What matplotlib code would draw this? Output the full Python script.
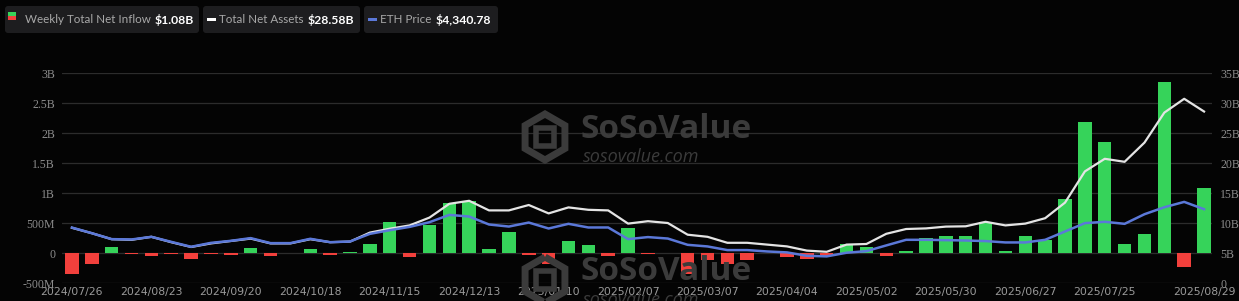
import numpy as np
import pandas as pd
import matplotlib
matplotlib.use('Agg')
import matplotlib.pyplot as plt
from matplotlib.patches import FancyBboxPatch, RegularPolygon, Rectangle

# weekly dates (Fridays)
weeks = pd.date_range('2024-07-26', '2025-08-29', freq='7D')
week_labels = [d.strftime('%Y/%m/%d') for d in weeks]

# weekly total net inflow, in billions USD
net_inflow = [-0.350, -0.178, 0.100, -0.022, -0.050, -0.015, -0.100, -0.015, -0.033, 0.078,
              -0.044, 0.001, 0.072, -0.028, 0.017, 0.150, 0.511, -0.072, 0.467, 0.833,
              0.872, 0.061, 0.350, -0.039, -0.178, 0.206, 0.133, -0.050, 0.417, -0.022,
              -0.003, -0.344, -0.122, -0.178, -0.111, -0.003, -0.061, -0.094, -0.044, 0.150,
              0.100, -0.044, 0.039, 0.244, 0.278, 0.278, 0.517, 0.028, 0.278, 0.211,
              0.900, 2.183, 1.844, 0.150, 0.322, 2.850, -0.239, 1.083]

# total net assets, in billions USD
net_assets = [9.2, 8.3, 7.3, 7.2, 7.7, 6.8, 6.0, 6.6, 7.0, 7.4,
              6.6, 6.6, 7.3, 6.8, 6.9, 8.4, 9.05, 9.6, 10.9, 13.2,
              13.7, 12.1, 12.1, 13.0, 11.6, 12.6, 12.2, 12.1, 9.9, 10.3,
              10.0, 8.05, 7.7, 6.7, 6.7, 6.4, 6.1, 5.4, 5.2, 6.4,
              6.5, 8.2, 9.0, 9.1, 9.4, 9.45, 10.2, 9.6, 9.9, 10.8,
              13.4, 18.6, 20.7, 20.2, 23.4, 28.4, 30.7, 28.58]

# ETH price, USD
eth_price = [3260, 2930, 2580, 2560, 2715, 2420, 2130, 2360, 2480, 2640,
             2345, 2345, 2600, 2400, 2440, 2890, 3105, 3300, 3575, 4005,
             3910, 3440, 3320, 3555, 3205, 3480, 3265, 3265, 2580, 2700,
             2615, 2245, 2150, 1935, 1935, 1855, 1800, 1600, 1565, 1780,
             1875, 2210, 2540, 2540, 2520, 2500, 2465, 2385, 2385, 2540,
             3030, 3520, 3600, 3480, 4045, 4455, 4770, 4340.78]

left_ticks = [-0.5, 0, 0.5, 1, 1.5, 2, 2.5, 3]
left_tick_labels = ['-500M', '0', '500M', '1B', '1.5B', '2B', '2.5B', '3B']
right_ticks = [0, 5, 10, 15, 20, 25, 30, 35]
right_tick_labels = ['0', '5B', '10B', '15B', '20B', '25B', '30B', '35B']
xtick_idx = [0, 4, 8, 12, 16, 20, 24, 28, 32, 36, 40, 44, 48, 52, 57]

GREEN = '#36d35a'
RED = '#f2403c'
BLUE = '#5b78d8'
WHITE = '#e4e4e4'
BG = '#040404'
MARK = '#3b3b3b'

W, H = 1239, 301
fig = plt.figure(figsize=(W / 100, H / 100), dpi=100, facecolor=BG)
ax = fig.add_axes([62 / W, 1 - 283 / H, (1212 - 62) / W, 210 / H])
ax.set_facecolor(BG)

x = np.arange(len(net_inflow))
vals = np.array(net_inflow)
colors = [GREEN if v >= 0 else RED for v in vals]
ax.bar(x, vals, width=0.68, color=colors, zorder=2)

ax.set_xlim(-0.5, 57.4)
ax.set_ylim(-0.5, 3)
ax.set_yticks(left_ticks)
ax.set_yticklabels(left_tick_labels, family='Liberation Serif', fontsize=8.5, color='#8c8c8c')
ax.set_xticks(xtick_idx)
ax.set_xticklabels([week_labels[i] for i in xtick_idx], family='DejaVu Sans', fontsize=7.8, color='#9a9a9a')
ax.tick_params(axis='both', length=0, pad=3)
ax.tick_params(axis='y', pad=5)
ax.grid(axis='y', color='#2c2c2c', linewidth=0.9, zorder=0)
for s in ax.spines.values():
    s.set_visible(False)

# right axis: total net assets
ax2 = ax.twinx()
ax2.set_ylim(0, 35)
ax2.set_yticks(right_ticks)
ax2.set_yticklabels(right_tick_labels, family='Liberation Serif', fontsize=8.5, color='#8c8c8c')
ax2.tick_params(axis='y', length=0, pad=6)
ax2.plot(x, net_assets, color=WHITE, linewidth=1.6, zorder=3)
for s in ax2.spines.values():
    s.set_visible(False)

# hidden axis: ETH price
ax3 = ax.twinx()
ax3.set_ylim(0, 12350)
ax3.axis('off')
ax3.plot(x, eth_price, color=BLUE, linewidth=1.8, zorder=4)


# watermarks
def watermark(cy):
    hexagon = RegularPolygon((545, H - cy), 6, radius=23, orientation=0,
                             fill=False, edgecolor=MARK, linewidth=5,
                             transform=None, zorder=10)
    fig.patches.append(hexagon)
    fig.patches.append(Rectangle((536, H - cy - 9), 18, 18, fill=False,
                                 edgecolor=MARK, linewidth=4, transform=None, zorder=10))
    fig.text(580 / W, 1 - (cy - 8) / H, 'SoSoValue', fontsize=24, fontweight='bold',
             family='Open Sans', color=MARK, va='center', ha='left', zorder=10)
    fig.text(583 / W, 1 - (cy + 20) / H, 'sosovalue.com', fontsize=13, style='italic',
             family='Open Sans', color=MARK, va='center', ha='left', zorder=10)


watermark(137)
watermark(280)


# legend boxes at the top
def legend_box(x0, x1, label, value, kind, color):
    fig.patches.append(FancyBboxPatch((x0, H - 33), x1 - x0, 27,
                                      boxstyle='round,pad=0,rounding_size=3',
                                      facecolor='#1d1d1f', edgecolor='none', transform=None))
    ty = 1 - 19.5 / H
    if kind == 'square':
        fig.patches.append(Rectangle((8, H - 16), 8, 4, facecolor=GREEN, transform=None))
        fig.patches.append(Rectangle((8, H - 20), 8, 4, facecolor=RED, transform=None))
        tx = 25
    else:
        fig.patches.append(Rectangle((x0 + 4, H - 21), 9, 3, facecolor=color, transform=None))
        tx = x0 + 16
    t = fig.text(tx / W, ty, label, fontsize=8.4, family='Lato', color='#a8a8a8',
                 va='center', ha='left')
    fig.canvas.draw()
    bb = t.get_window_extent()
    fig.text((bb.x1 + 4) / W, ty, value, fontsize=8.8, family='Lato', fontweight='bold',
             color='#ffffff', va='center', ha='left')


legend_box(5, 199, 'Weekly Total Net Inflow', '$1.08B', 'square', None)
legend_box(203, 360, 'Total Net Assets', '$28.58B', 'line', '#ffffff')
legend_box(364, 498, 'ETH Price', '$4,340.78', 'line', BLUE)

fig.savefig('out.png', dpi=100, facecolor=BG)
